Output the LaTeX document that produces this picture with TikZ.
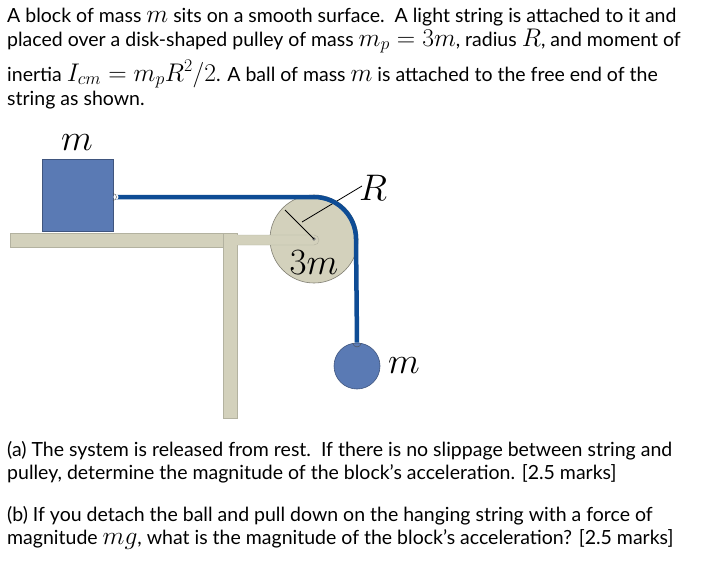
\documentclass[tikz,border=0pt]{standalone}
\usepackage{fix-cm}
\usepackage{fontspec}
\setmainfont{Lato}
\newcommand{\MM}[1]{{\fontsize{25.5}{25.5}\selectfont$#1$}}
\begin{document}
\begin{tikzpicture}[x=1pt,y=-1pt,
  txt/.style={anchor=base west,inner sep=0pt,font=\fontsize{19.5}{20}\selectfont},
  bl/.style={fill=blockc,draw=blockc!70!black,line width=0.6pt},
  tab/.style={fill=tablec,draw=tablec!85!black,line width=0.4pt},
  mlab/.style={inner sep=0pt,font=\fontsize{37}{37}\selectfont}]
\definecolor{blockc}{HTML}{5A7AB4}
\definecolor{tablec}{HTML}{D3D1BC}
\definecolor{stringc}{HTML}{0E4C95}
\useasboundingbox (0,0) rectangle (726,574);
\fill[white] (0,0) rectangle (726,574);
% text
\node[txt] (t1) at (7,22) {A block of mass \MM{m} sits on a smooth surface.\ \ A light string is attached to it and};
\node[txt] (t2) at (7,46) {placed over a disk-shaped pulley of mass \MM{m_p = 3m}, radius \MM{R}, and moment of};
\node[txt] (t3) at (7,81) {inertia \MM{I_{cm} = m_p R^2/2}. A ball of mass \MM{m} is attached to the free end of the};
\node[txt] (t4) at (7,105) {string as shown.};
\node[txt] (t5) at (7,456) {(a) The system is released from rest.\ \ If there is no slippage between string and};
\node[txt] (t6) at (7,479) {pulley, determine the magnitude of the block's acceleration. [2.5 marks]};
\node[txt] (t7) at (7,521) {(b) If you detach the ball and pull down on the hanging string with a force of};
\node[txt] (t8) at (7,544) {magnitude \MM{mg}, what is the magnitude of the block's acceleration? [2.5 marks]};
% table
\draw[tab] (10,233) -- (223,233) -- (223,247) -- (10,247) -- cycle;
\draw[tab] (223,233) -- (237,233) -- (237,418) -- (223,418) -- cycle;
\fill[tablec] (224,234) rectangle (236,246);
% pulley
\node[circle,minimum size=88pt,fill=tablec,draw=tablec!60!black,line width=0.6pt,inner sep=0pt] (pul) at (314,239) {};
\draw[tab] (237,235) -- (314,235) arc (-90:90:5) -- (237,245) -- cycle;
\fill[tablec] (236,235.4) rectangle (238,244.6);
\fill[gray] (pul.center) circle (1.8);
\draw[line width=0.8pt] (pul.center) -- (285,210);
\draw[line width=0.8pt] (302,222) -- (362,186);
\node[mlab] (R) at (373,188) {\(R\)};
\node[mlab] (pm) at (314,263) {\(3m\)};
% block
\node[bl,minimum width=71pt,minimum height=72pt,inner sep=0pt,anchor=south west] (blk) at (42,232) {};
\node[mlab] (bm) at (77,143) {\(m\)};
% ball
\node[circle,bl,minimum size=46pt,inner sep=0pt] (ball) at (357,366) {};
\node[mlab] (balm) at (404,366) {\(m\)};
% string
\draw[stringc,line width=4.5pt] (116,197) -- (314,197) arc (-90:0:42) -- (ball.north);
\draw[white,fill=white,line width=0.5pt] (116,197) circle (2.2);
\draw[black!70,line width=0.4pt] (113,193.5) arc (-90:90:3.5);
\draw[black!70,line width=0.4pt] (353,343) arc (180:0:4);
\end{tikzpicture}
\end{document}
